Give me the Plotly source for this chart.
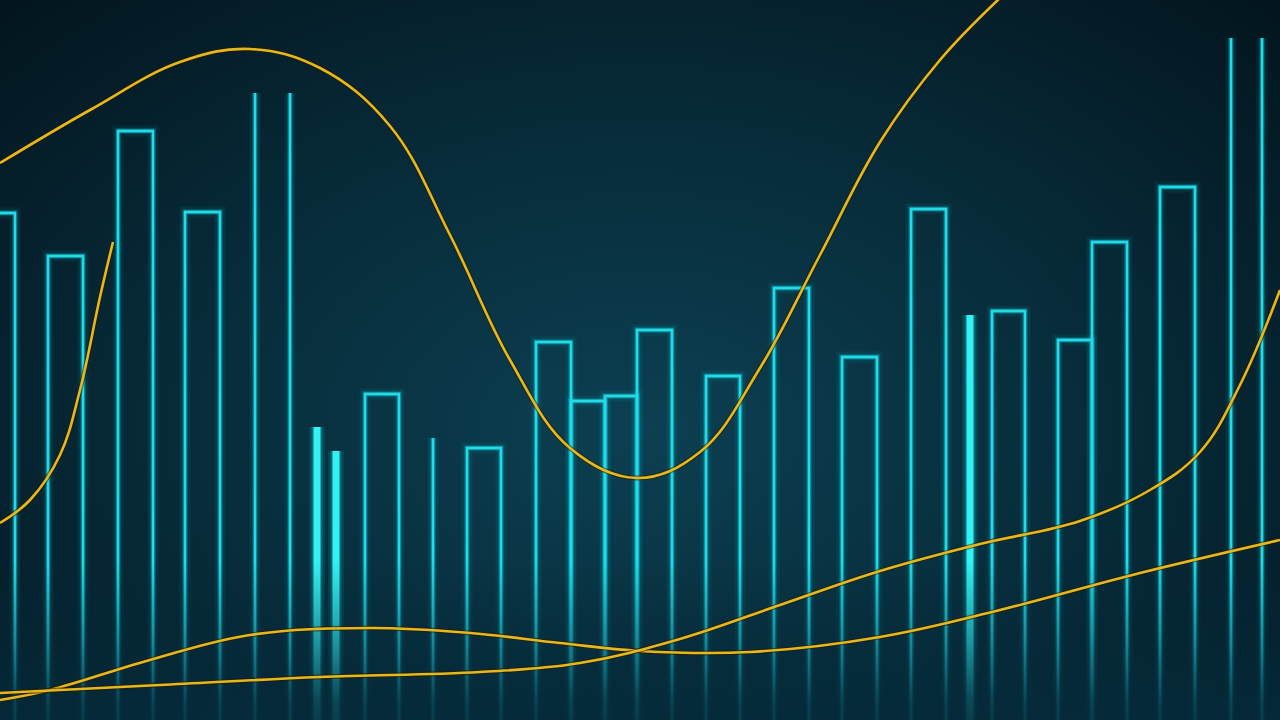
import plotly.graph_objects as go

W, H = 1280, 720

# ---- outlined (hollow) bars: left edge, right edge, top height ----
BAR_LEFT  = [-20, 48, 118, 185, 365, 467, 536, 571, 605, 637, 706, 774, 842, 911, 992, 1058, 1092, 1160]
BAR_RIGHT = [15, 83, 153, 220, 399, 501, 571, 605, 637, 672, 740, 809, 877, 946, 1025, 1092, 1127, 1195]
BAR_TOP   = [507, 464, 589, 508, 326, 272, 378, 319, 324, 390, 344, 432, 363, 511, 409, 380, 478, 533]

# ---- single thin lines ----
LINE_X   = [255, 290, 433, 1231, 1262]
LINE_TOP = [627, 627, 282, 682, 682]

# ---- solid thick bars ----
THICK_X   = [317, 336, 970]
THICK_TOP = [293, 269, 405]

# ---- yellow curves ----
CURVE_A_X = [0, 90, 180, 250, 320, 390, 450, 510, 570, 637, 700, 760, 820, 880, 940, 1000]
CURVE_A_Y = [557, 610, 658, 671, 652, 594, 485, 360, 272, 242, 268, 352, 465, 578, 660, 722]

CURVE_B_X = [0, 30, 60, 80, 100, 113]
CURVE_B_Y = [197, 220, 265, 330, 423, 478]

CURVE_C_X = [0, 50, 150, 250, 370, 470, 560, 640, 750, 880, 1000, 1140, 1280]
CURVE_C_Y = [20, 30, 60, 85, 92, 87, 77, 69, 68, 83, 110, 147, 180]

CURVE_D_X = [0, 160, 320, 480, 580, 680, 780, 880, 980, 1080, 1150, 1200, 1240, 1280]
CURVE_D_Y = [27, 35, 43, 48, 57, 81, 115, 149, 176, 199, 230, 268, 335, 430]

BOTTOM = -40
BG_EDGE = "rgb(3,22,31)"
BG_MID = "rgb(7,42,56)"
BG_CENTER = "rgb(12,64,82)"
FADE = (5, 42, 58)
CYAN = "#22dbe8"
CYAN_BRIGHT = "#33f2f4"
YELLOW = "#e6b81c"

fig = go.Figure()

# background radial glow
fig.add_trace(go.Scatter(
    x=[-250, W + 250, W + 250, -250, -250],
    y=[-300, -300, 880, 880, -300],
    mode="lines", line=dict(width=0), fill="toself",
    fillgradient=dict(type="radial",
                      colorscale=[[0, BG_CENTER], [0.55, BG_MID], [1, BG_EDGE]]),
    hoverinfo="skip", showlegend=False))

# hollow bar outlines (open bottoms)
bx, by = [], []
for l, r, t in zip(BAR_LEFT, BAR_RIGHT, BAR_TOP):
    bx += [l, l, r, r, None]
    by += [BOTTOM, t, t, BOTTOM, None]
for x, t in zip(LINE_X, LINE_TOP):
    bx += [x, x, None]
    by += [BOTTOM, t, None]

tx, ty = [], []
for x, t in zip(THICK_X, THICK_TOP):
    tx += [x, x, None]
    ty += [BOTTOM, t, None]

for w, c in [(11, "rgba(0,220,240,0.07)"), (6, "rgba(0,225,245,0.18)"), (2.8, CYAN)]:
    fig.add_trace(go.Scatter(x=bx, y=by, mode="lines", line=dict(color=c, width=w),
                             hoverinfo="skip", showlegend=False))
for w, c in [(16, "rgba(0,235,245,0.10)"), (11, "rgba(0,235,245,0.25)"), (7, CYAN_BRIGHT)]:
    fig.add_trace(go.Scatter(x=tx, y=ty, mode="lines", line=dict(color=c, width=w),
                             hoverinfo="skip", showlegend=False))

# fade of the bars toward the bottom
fr, fg, fb = FADE
fig.add_trace(go.Scatter(
    x=[-10, W + 10, W + 10, -10, -10],
    y=[BOTTOM, BOTTOM, 160, 160, BOTTOM],
    mode="lines", line=dict(width=0), fill="toself",
    fillgradient=dict(type="vertical",
                      colorscale=[[0, f"rgba({fr},{fg},{fb},1)"],
                                  [0.3, f"rgba({fr},{fg},{fb},0.85)"],
                                  [0.6, f"rgba({fr},{fg},{fb},0.45)"],
                                  [1, f"rgba({fr},{fg},{fb},0)"]]),
    hoverinfo="skip", showlegend=False))

# yellow curves
for cx, cy in [(CURVE_A_X, CURVE_A_Y), (CURVE_B_X, CURVE_B_Y),
               (CURVE_C_X, CURVE_C_Y), (CURVE_D_X, CURVE_D_Y)]:
    fig.add_trace(go.Scatter(x=cx, y=cy, mode="lines",
                             line=dict(color="rgba(40,25,0,0.55)", width=4.8, shape="spline", smoothing=1.1),
                             hoverinfo="skip", showlegend=False))
    fig.add_trace(go.Scatter(x=cx, y=cy, mode="lines",
                             line=dict(color=YELLOW, width=2.6, shape="spline", smoothing=1.1),
                             hoverinfo="skip", showlegend=False))

fig.update_layout(
    width=W, height=H,
    margin=dict(l=0, r=0, t=0, b=0),
    paper_bgcolor=BG_EDGE, plot_bgcolor=BG_EDGE,
    xaxis=dict(range=[0, W], visible=False, fixedrange=True),
    yaxis=dict(range=[0, H], visible=False, fixedrange=True),
    showlegend=False,
)

fig.write_html("out.html", config={"displayModeBar": False, "staticPlot": True},
               post_script="document.body.style.margin='0';document.body.style.overflow='hidden';")
